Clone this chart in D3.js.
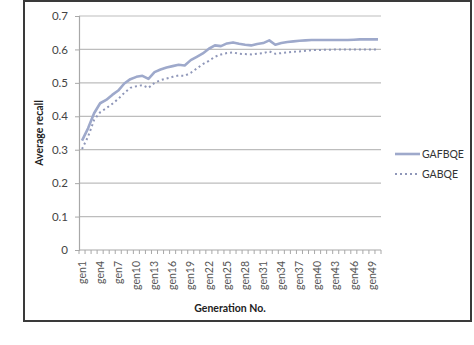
<!DOCTYPE html>
<html><head><meta charset="utf-8">
<script src="https://cdn.jsdelivr.net/npm/d3@7"></script>
<style>
html,body{margin:0;padding:0;background:#fff;}
svg{display:block;font-family:Lato,"Open Sans",sans-serif;}
</style></head>
<body>
<svg id="chart" width="474" height="345"></svg>
<script>
const categories = d3.range(1, 51).map(i => "gen" + i);
const gafbqe = [0.327,0.364,0.409,0.439,0.449,0.464,0.477,0.498,0.511,0.518,0.521,0.512,0.532,0.540,0.546,0.550,0.554,0.552,0.568,0.578,0.588,0.602,0.612,0.610,0.618,0.621,0.617,0.614,0.612,0.616,0.619,0.627,0.614,0.619,0.622,0.624,0.626,0.627,0.628,0.628,0.628,0.628,0.628,0.628,0.628,0.629,0.630,0.630,0.630,0.630];
const gabqe = [0.302,0.339,0.389,0.412,0.424,0.437,0.452,0.470,0.485,0.490,0.493,0.485,0.500,0.508,0.513,0.518,0.522,0.521,0.530,0.543,0.556,0.566,0.578,0.585,0.589,0.591,0.587,0.586,0.585,0.587,0.589,0.594,0.587,0.589,0.591,0.593,0.594,0.596,0.598,0.598,0.599,0.599,0.600,0.600,0.600,0.600,0.600,0.600,0.600,0.600];
const yTicks = [0, 0.1, 0.2, 0.3, 0.4, 0.5, 0.6, 0.7];
const seriesNames = ["GAFBQE", "GABQE"];

const svg = d3.select("#chart");
// outer frame
svg.append("rect").attr("x", 24).attr("y", 1).attr("width", 447).attr("height", 320)
  .attr("fill", "none").attr("stroke", "#3a3a3a").attr("stroke-width", 2);

const x = d3.scaleBand().domain(categories).range([79, 381]).padding(0);
const y = d3.scaleLinear().domain([0, 0.7]).range([250, 16]);
const cx = c => x(c) + x.bandwidth() / 2;

// gridlines
svg.append("g").selectAll("line").data(yTicks.filter(v => v > 0)).join("line")
  .attr("x1", 79).attr("x2", 381).attr("y1", d => y(d)).attr("y2", d => y(d))
  .attr("stroke", "#bdbdbd").attr("stroke-width", 1.2);

// y axis
const yAxis = svg.append("g").attr("transform", "translate(79,0)")
  .call(d3.axisLeft(y).tickValues(yTicks).tickSize(4).tickPadding(7).tickFormat(d => d === 0 ? "0" : d3.format(".1f")(d)));
yAxis.select(".domain").attr("stroke", "#a8a8a8").attr("stroke-width", 1.2);
yAxis.selectAll(".tick line").attr("stroke", "#a8a8a8");
yAxis.selectAll("text").attr("fill", "#444").attr("font-size", 11.5).attr("font-family", "Lato,sans-serif");

// x axis line
svg.append("line").attr("x1", 79).attr("x2", 381).attr("y1", 250).attr("y2", 250)
  .attr("stroke", "#a8a8a8").attr("stroke-width", 1.2);
// tick marks at category boundaries
const bounds = categories.map(c => x(c)).concat([x(categories[categories.length - 1]) + x.bandwidth()]);
svg.append("g").selectAll("line").data(bounds).join("line")
  .attr("x1", d => d).attr("x2", d => d).attr("y1", 250).attr("y2", 254)
  .attr("stroke", "#a8a8a8").attr("stroke-width", 1);
// x labels
svg.append("g").selectAll("text").data(categories.filter((c, i) => i % 3 === 0)).join("text")
  .attr("transform", d => `translate(${cx(d)},261) rotate(-90)`)
  .attr("text-anchor", "end").attr("dy", "0.35em")
  .attr("font-size", 10.5).attr("fill", "#555").text(d => d);

// lines
const line = d3.line().x((d, i) => cx(categories[i])).y(d => y(d));
svg.append("path").datum(gafbqe).attr("d", line).attr("fill", "none")
  .attr("stroke", "#9ea9cb").attr("stroke-width", 2.6).attr("stroke-linejoin", "round");
svg.append("path").datum(gabqe).attr("d", line).attr("fill", "none")
  .attr("stroke", "#8f97b9").attr("stroke-width", 2).attr("stroke-dasharray", "2,3");

// axis titles
svg.append("text").attr("transform", "translate(43,133) rotate(-90)").attr("text-anchor", "middle")
  .attr("font-size", 10.5).attr("font-weight", "bold").attr("fill", "#222").text("Average recall");
svg.append("text").attr("x", 230).attr("y", 312).attr("text-anchor", "middle")
  .attr("font-size", 10.5).attr("font-weight", "bold").attr("fill", "#222").text("Generation No.");

// legend
const leg = svg.append("g");
const legStyles = [{stroke: "#9ea9cb", w: 2.6, dash: null}, {stroke: "#8f97b9", w: 2, dash: "2,3"}];
seriesNames.forEach((n, i) => {
  const ly = 154 + i * 20;
  leg.append("line").attr("x1", 395).attr("x2", 420).attr("y1", ly).attr("y2", ly)
    .attr("stroke", legStyles[i].stroke).attr("stroke-width", legStyles[i].w)
    .attr("stroke-dasharray", legStyles[i].dash);
  leg.append("text").attr("x", 422).attr("y", ly).attr("dy", "0.35em")
    .attr("font-size", 10.5).attr("fill", "#333").text(n);
});
</script>
</body></html>
